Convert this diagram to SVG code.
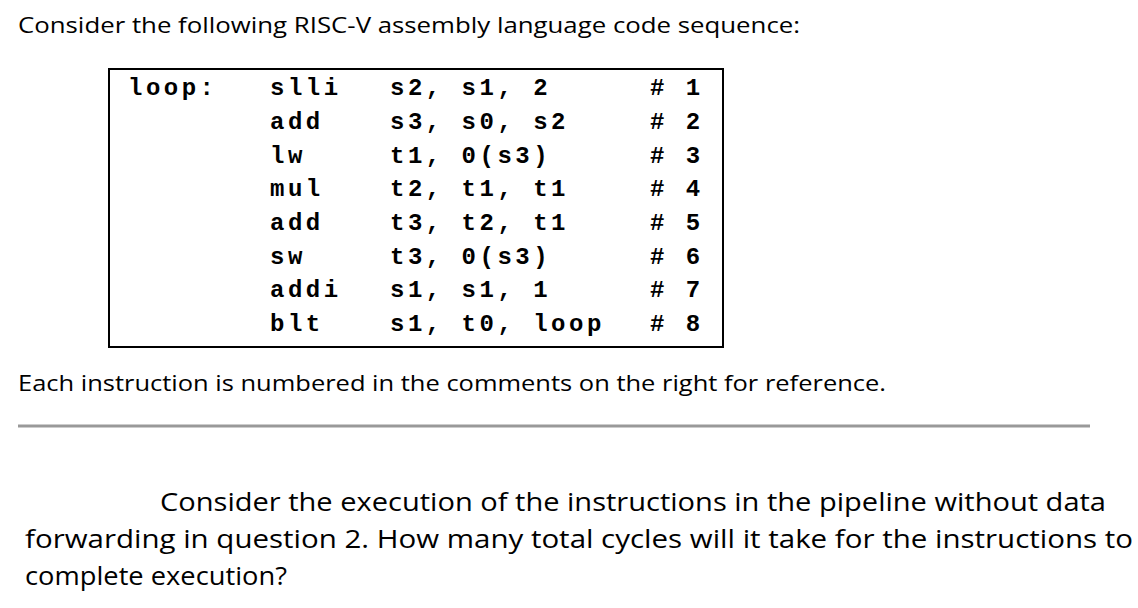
<svg xmlns="http://www.w3.org/2000/svg" width="1138" height="608" viewBox="0 0 1138 608">
<style>
.t{font-family:"Open Sans","Liberation Sans",Arial,sans-serif;fill:#000}
.c{font-family:"Liberation Mono","Courier New",monospace;font-weight:bold;font-size:24px;letter-spacing:3.5px;fill:#000}
</style>
<rect width="1138" height="608" fill="#fff"/>
<text class="t" x="18" y="33" font-size="21" textLength="782" lengthAdjust="spacingAndGlyphs">Consider the following RISC-V assembly language code sequence:</text>
<rect x="109" y="69" width="614" height="278" fill="none" stroke="#000" stroke-width="2"/>
<g class="c">
<text x="128" y="95">loop:</text>
<text x="270" y="95">slli</text><text x="390" y="95">s2, s1, 2</text><text x="650" y="95"># 1</text>
<text x="270" y="129">add</text><text x="390" y="129">s3, s0, s2</text><text x="650" y="129"># 2</text>
<text x="270" y="163">lw</text><text x="390" y="163">t1, 0(s3)</text><text x="650" y="163"># 3</text>
<text x="270" y="196">mul</text><text x="390" y="196">t2, t1, t1</text><text x="650" y="196"># 4</text>
<text x="270" y="230">add</text><text x="390" y="230">t3, t2, t1</text><text x="650" y="230"># 5</text>
<text x="270" y="264">sw</text><text x="390" y="264">t3, 0(s3)</text><text x="650" y="264"># 6</text>
<text x="270" y="297">addi</text><text x="390" y="297">s1, s1, 1</text><text x="650" y="297"># 7</text>
<text x="270" y="331">blt</text><text x="390" y="331">s1, t0, loop</text><text x="650" y="331"># 8</text>
</g>
<text class="t" x="18" y="391" font-size="21" textLength="868" lengthAdjust="spacingAndGlyphs">Each instruction is numbered in the comments on the right for reference.</text>
<line x1="18" y1="426" x2="1090" y2="426" stroke="#999" stroke-width="3"/>
<text class="t" x="160" y="511" font-size="25" textLength="946" lengthAdjust="spacingAndGlyphs">Consider the execution of the instructions in the pipeline without data</text>
<text class="t" x="25" y="548" font-size="25" textLength="1108" lengthAdjust="spacingAndGlyphs">forwarding in question 2.  How many total cycles will it take for the instructions to</text>
<text class="t" x="25" y="585" font-size="25" textLength="262" lengthAdjust="spacingAndGlyphs">complete execution?</text>
</svg>
